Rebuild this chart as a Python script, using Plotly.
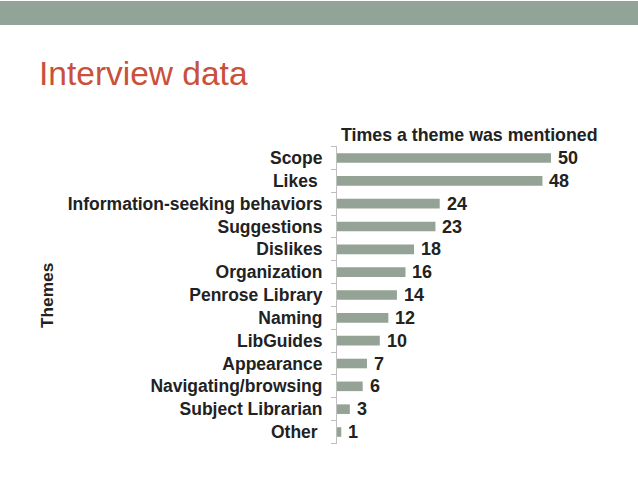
import plotly.graph_objects as go

themes = ["Scope", "Likes ", "Information-seeking behaviors", "Suggestions", "Dislikes",
          "Organization", "Penrose Library", "Naming", "LibGuides", "Appearance",
          "Navigating/browsing", "Subject Librarian", "Other "]
counts = [50, 48, 24, 23, 18, 16, 14, 12, 10, 7, 6, 3, 1]

W, H = 638, 478
L, R, T, B = 337, 44, 145.5, 33.5
pw, ph = W - L - R, H - T - B

def px(x):
    return (x - L) / pw

def py(y):
    return 1 - (y - T) / ph

bar_color = "#94A395"
text_color = "#222222"
font = "Liberation Sans, Arial, sans-serif"

fig = go.Figure(go.Bar(
    x=counts, y=themes, orientation="h",
    marker=dict(color=bar_color, line=dict(width=0)),
    width=0.42,
))

for t, c in zip(themes, counts):
    fig.add_annotation(x=c, y=t, xref="x", yref="y", text=str(c), showarrow=False,
                       xanchor="left", yanchor="middle", xshift=5, yshift=0,
                       font=dict(family=font, size=18, color=text_color, weight="bold"))

fig.update_layout(
    width=W, height=H,
    margin=dict(l=L, r=R, t=T, b=B, pad=0),
    paper_bgcolor="white", plot_bgcolor="white",
    showlegend=False,
    font=dict(family=font, color=text_color),
    xaxis=dict(range=[0, pw / 4.28], visible=False, fixedrange=True),
    yaxis=dict(
        categoryorder="array", categoryarray=themes[::-1],
        showline=True, linecolor="#BFBFBF", linewidth=1,
        ticks="outside", ticklen=5, tickcolor="#BFBFBF", tickson="boundaries",
        showgrid=False, zeroline=False, fixedrange=True,
        tickfont=dict(family=font, size=17.5, color=text_color, weight="bold"),
        ticklabelstandoff=10,
    ),
    shapes=[dict(type="rect", xref="paper", yref="paper",
                 x0=px(0), x1=px(W), y0=py(24), y1=py(0),
                 fillcolor="#92A398", line=dict(width=0), layer="below")],
)

fig.add_annotation(xref="paper", yref="paper", x=px(37), y=py(73), text="Interview data",
                   showarrow=False, xanchor="left", yanchor="middle",
                   font=dict(family=font, size=33.5, color="#C9503A"))
fig.add_annotation(xref="paper", yref="paper", x=px(339), y=py(134),
                   text="Times a theme was mentioned", showarrow=False,
                   xanchor="left", yanchor="middle",
                   font=dict(family=font, size=17.8, color=text_color, weight="bold"))
fig.add_annotation(xref="paper", yref="paper", x=px(47), y=py(296),
                   text="Themes", showarrow=False, textangle=-90,
                   xanchor="center", yanchor="middle",
                   font=dict(family=font, size=17.3, color=text_color, weight="bold"))

fig.write_html("out.html", config={"displayModeBar": False},
               post_script="document.body.style.margin='0';")
